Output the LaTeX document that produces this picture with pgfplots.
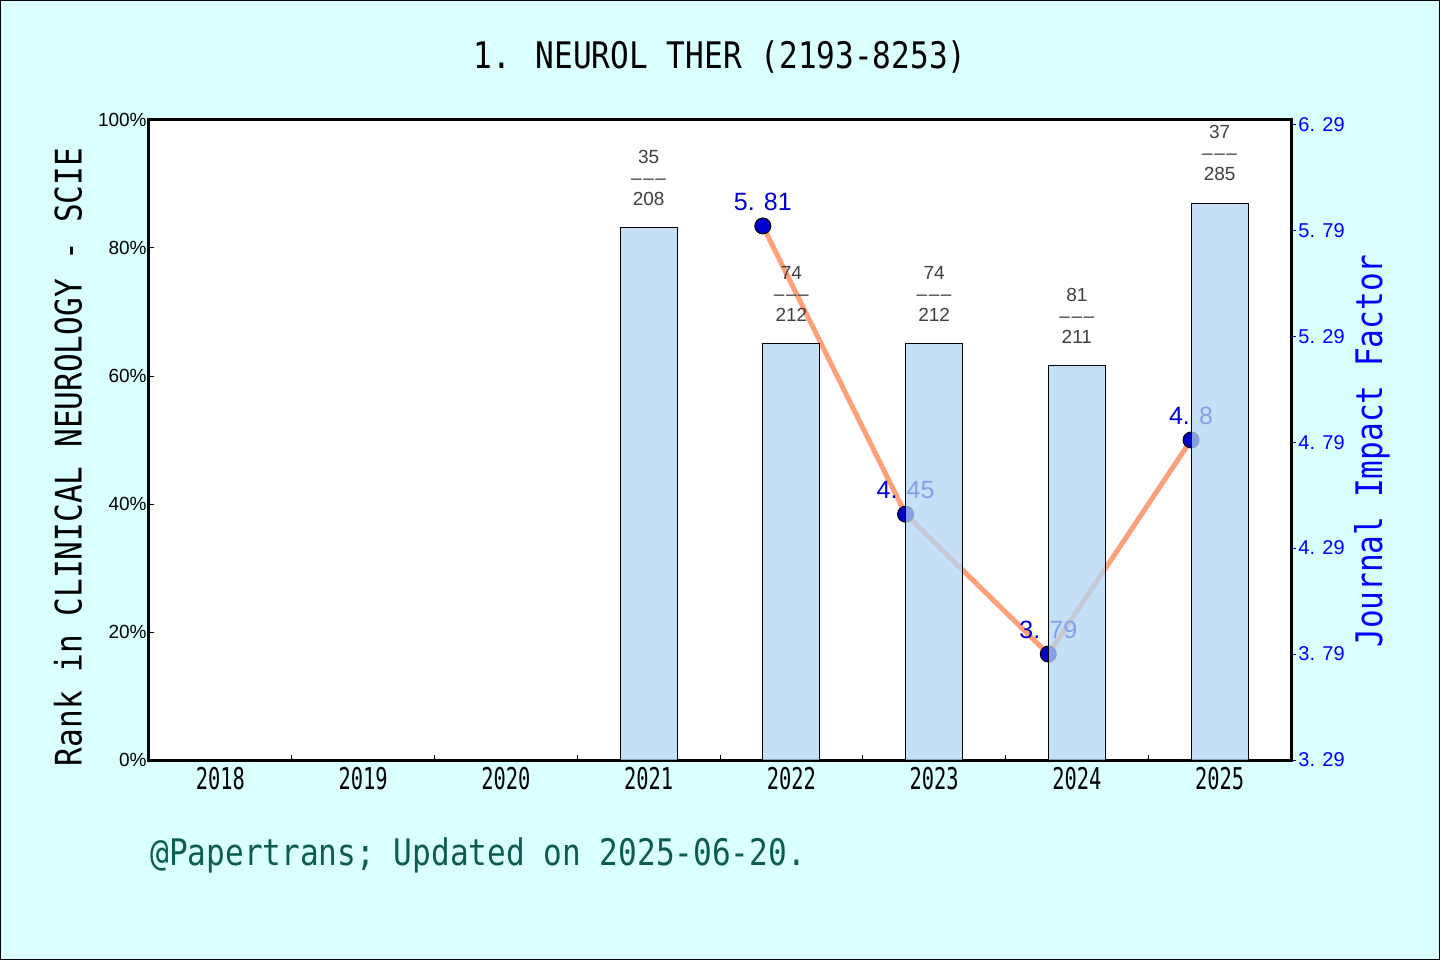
\documentclass[border=0pt]{standalone}
\usepackage{fontspec}
\setmainfont{Liberation Sans}
\newfontfamily\monof[FakeStretch=0.85]{DejaVu Sans Mono}
\newfontfamily\yearf[FakeStretch=0.68]{DejaVu Sans Mono}
\usepackage{pgfplots}
\pgfplotsset{compat=1.18}
\definecolor{bgc}{RGB}{217,255,255}
\definecolor{barc}{RGB}{178,214,244}
\definecolor{salm}{RGB}{255,160,122}
\definecolor{ifblue}{RGB}{0,0,205}
\definecolor{lblgray}{RGB}{64,64,64}
\definecolor{foot}{RGB}{12,92,84}
\newcommand{\frc}[2]{#1\\\textendash\kern0.8pt\textendash\kern0.8pt\textendash\\#2}
\begin{document}
\begin{tikzpicture}
\fill[bgc] (-74.5pt,-100pt) rectangle (645.5pt,380pt);
\draw[black,line width=0.5pt] (-74.25pt,-99.75pt) rectangle (645.25pt,379.75pt);
\begin{axis}[at={(0,0)},anchor=south west,scale only axis,width=571pt,height=320pt,
 xmin=-0.5,xmax=7.5,ymin=3.29,ymax=6.31,
 axis x line=none, axis y line*=right,
 axis background/.style={fill=white},
 ytick={3.29,3.79,4.29,4.79,5.29,5.79,6.29},
 yticklabels={3. 29,3. 79,4. 29,4. 79,5. 29,5. 79,6. 29},
 yticklabel style={font=\fontsize{10}{12}\selectfont, text=blue, inner sep=1pt},
 tick align=outside, major tick length=2.5pt,
 y tick style={blue, line width=0.5pt},
 clip=false]
\addplot[salm, line width=2.5pt, mark=*, mark size=4pt,
 mark options={fill=ifblue, draw=black, line width=0.5pt},
 nodes near coords, point meta=explicit symbolic,
 every node near coord/.append style={font=\fontsize{12.5}{14}\selectfont, text=ifblue, anchor=south, inner sep=0pt, yshift=7.5pt}]
 coordinates {(3.8,5.81)[5. 81] (4.8,4.45)[4. 45] (5.8,3.79)[3. 79] (6.8,4.8)[4. 8]};
\end{axis}
\begin{axis}[at={(0,0)},anchor=south west,scale only axis,width=571pt,height=320pt,
 xmin=-0.5,xmax=7.5,ymin=0,ymax=100,
 axis line style={line width=1.5pt},
 xtick={0.5,1.5,...,6.5}, xticklabels={},
 extra x ticks={0,1,2,3,4,5,6,7},
 extra x tick labels={2018,2019,2020,2021,2022,2023,2024,2025},
 extra x tick style={major tick length=0pt},
 xticklabel style={font=\yearf\fontsize{15}{17}\selectfont, text=black},
 ytick={0,20,40,60,80,100},
 yticklabels={0\%,20\%,40\%,60\%,80\%,100\%},
 yticklabel style={font=\fontsize{9.5}{11}\selectfont, inner sep=1pt},
 xtick pos=left, ytick pos=left, tick align=inside,
 major tick length=2.5pt, tick style={black, line width=0.5pt},
 clip=false]
\addplot[ybar, bar width=28.5pt, fill=barc, fill opacity=0.75, draw=black, line width=0.5pt]
 coordinates {(3,83.17) (4,65.09) (5,65.09) (6,61.61) (7,87.02)};
\begin{scope}[every node/.style={anchor=south, align=center, inner sep=0pt, yshift=11pt,
   font=\fontsize{9.5}{10.5}\selectfont, text=lblgray}]
\node at (axis cs:3,83.17) {\frc{35}{208}};
\node at (axis cs:4,65.09) {\frc{74}{212}};
\node at (axis cs:5,65.09) {\frc{74}{212}};
\node at (axis cs:6,61.61) {\frc{81}{211}};
\node at (axis cs:7,87.02) {\frc{37}{285}};
\end{scope}
\end{axis}
\node[font=\monof\fontsize{18.3}{22}\selectfont] at (285.5pt,351.5pt) {1. NEUROL THER (2193-8253)};
\node[font=\monof\fontsize{18.3}{22}\selectfont, rotate=90] at (-40.5pt,151.5pt) {Rank in CLINICAL NEUROLOGY - SCIE};
\node[font=\monof\fontsize{18.3}{22}\selectfont, rotate=90, text=blue] at (611.5pt,154.5pt) {Journal Impact Factor};
\node[font=\monof\fontsize{18.3}{22}\selectfont, text=foot, anchor=west, inner sep=0pt] at (0.5pt,-47.5pt) {@Papertrans; Updated on 2025-06-20.};
\end{tikzpicture}
\end{document}
